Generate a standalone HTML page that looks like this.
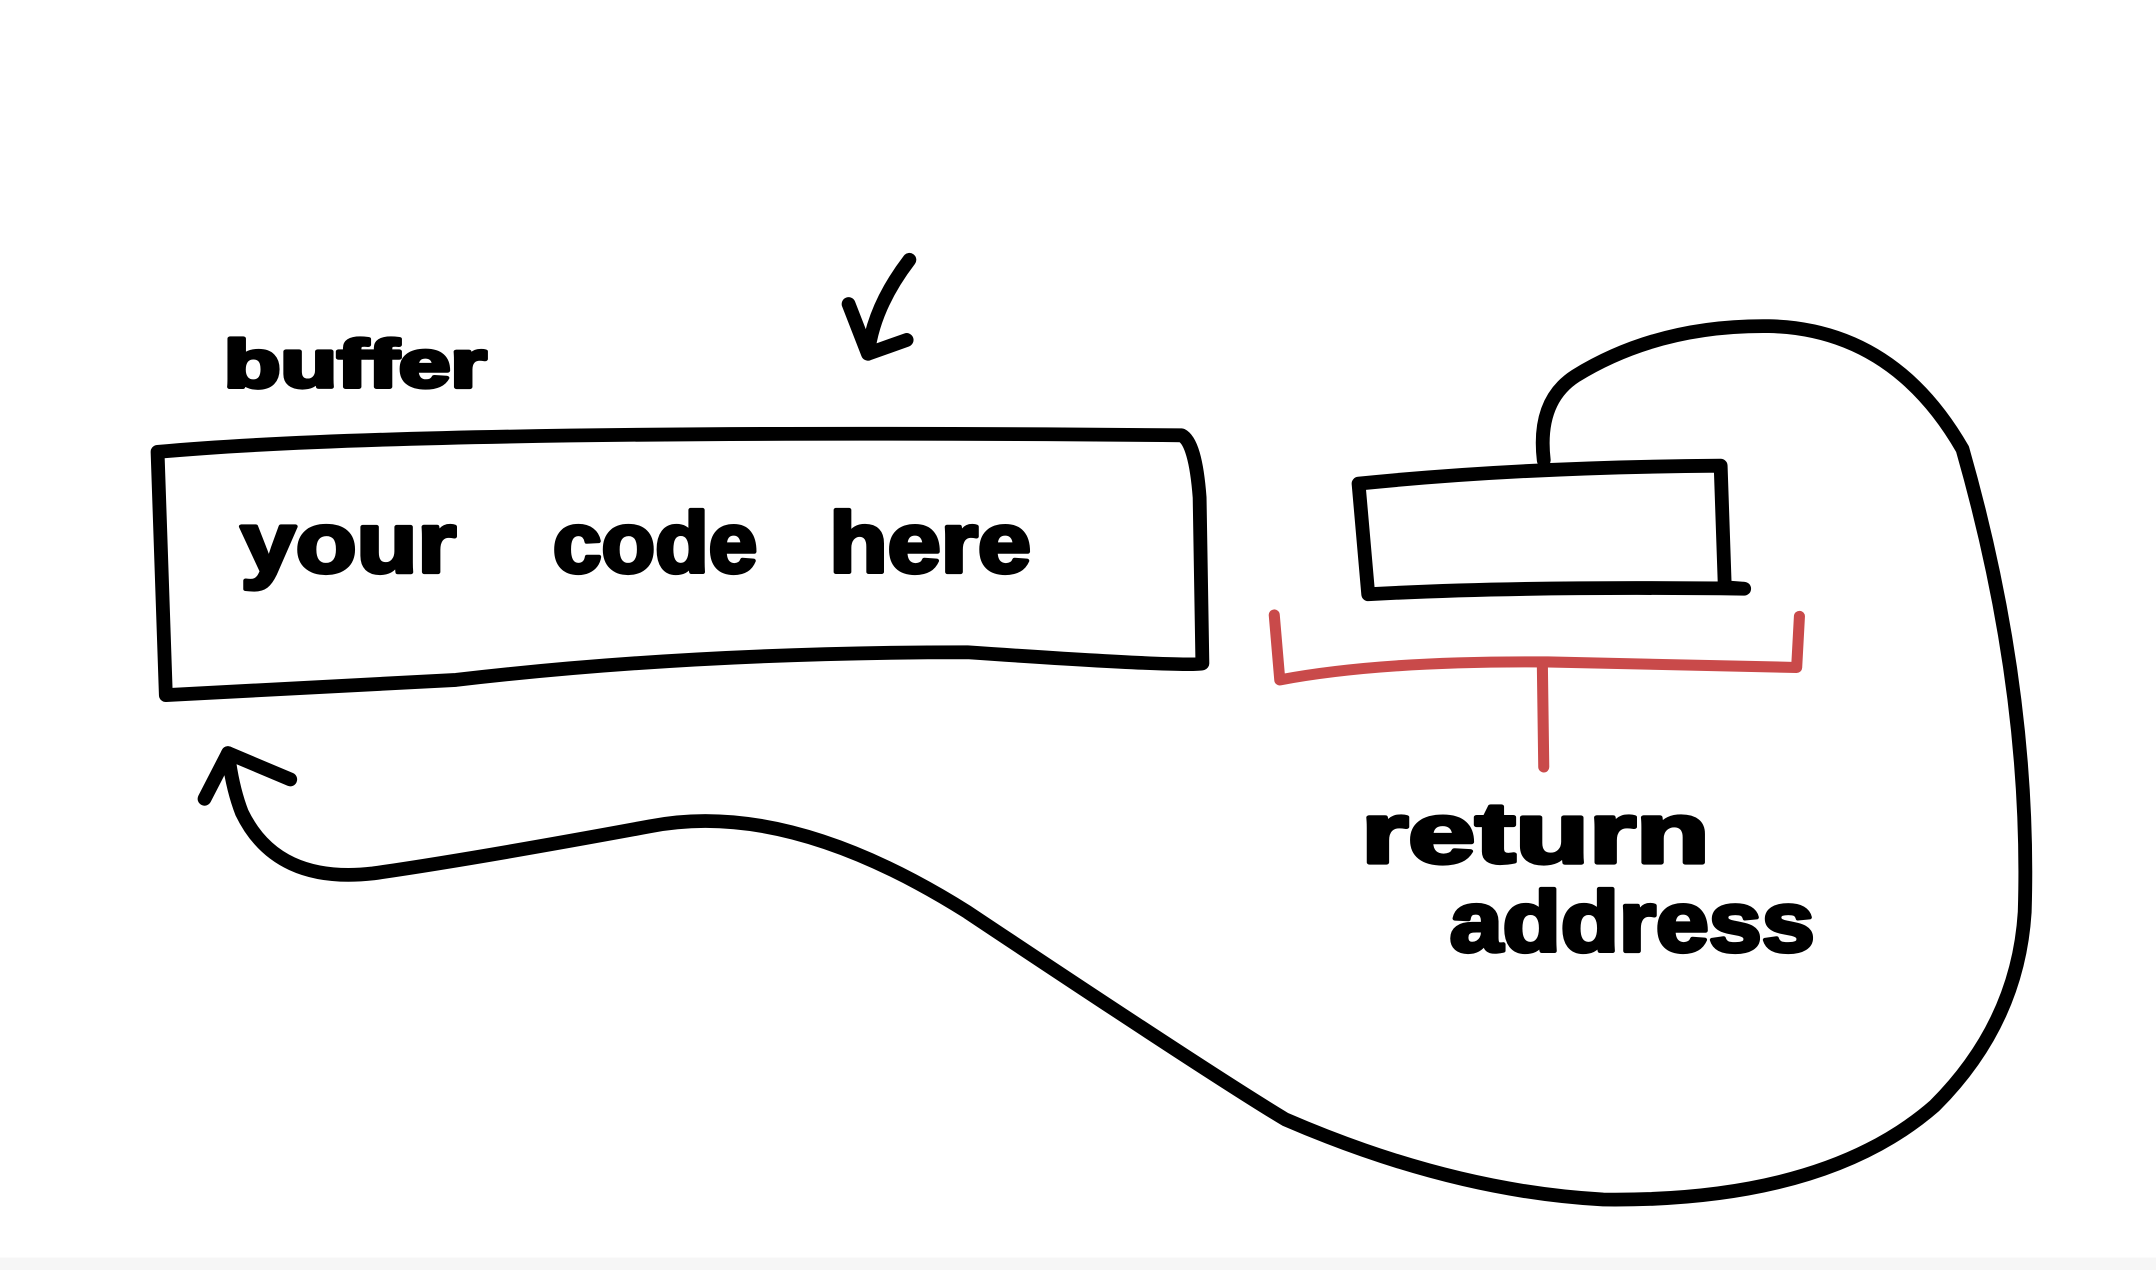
<!DOCTYPE html>
<html><head><meta charset="utf-8"><style>
html,body{margin:0;padding:0;background:#fff;}
svg{display:block;}
text{font-family:"Liberation Sans",sans-serif;font-weight:bold;fill:#000;stroke:#000;stroke-width:3;stroke-linejoin:round;}
</style></head><body>
<svg width="2156" height="1270" viewBox="0 0 1560 919" preserveAspectRatio="none" xmlns="http://www.w3.org/2000/svg">
<rect x="0" y="0" width="1560" height="919" fill="#fff"/>
<rect x="0" y="910" width="1560" height="9" fill="#f6f6f6"/>
<g fill="none" stroke="#000" stroke-width="10" stroke-linecap="round" stroke-linejoin="round">
<path d="M114 327 Q300 310 855 315 Q865 320 868 360 L870 480 Q860 483 700 472 Q500 472 330 492 L120 503 L114 327"/>
<path d="M983 350 Q1100 338 1245 337 L1248 425 L1262 426 Q1100 424 990 430 L983 350"/>
<path d="M1117 333 Q1112 290 1140 272 Q1200 235 1280 236 Q1370 238 1420 325 Q1470 500 1465 660 Q1460 740 1400 800 Q1320 870 1160 868 Q1050 862 930 810 Q880 780 700 660 Q570 578 470 598 Q340 622 270 632 Q200 640 175 588 Q168 570 165 545"/>
<path d="M148 578 L165 545 L210 564"/>
<path d="M658 188 Q632 222 628 256 M614 220 L628 256 L656 246"/>
</g>
<g fill="none" stroke="#c94a4a" stroke-width="8" stroke-linecap="round" stroke-linejoin="round">
<path d="M922 445 L926 492 Q1000 478 1120 479 L1300 483 L1302 446"/>
<path d="M1116 482 L1117 555"/>
</g>
<text x="162" y="280" font-size="48" textLength="190" lengthAdjust="spacingAndGlyphs">buffer</text>
<text x="174" y="414" font-size="62" textLength="156" lengthAdjust="spacingAndGlyphs">your</text>
<text x="400" y="414" font-size="62" textLength="148" lengthAdjust="spacingAndGlyphs">code</text>
<text x="600" y="414" font-size="62" textLength="146" lengthAdjust="spacingAndGlyphs">here</text>
<text x="985" y="624" font-size="62" textLength="252" lengthAdjust="spacingAndGlyphs">return</text>
<text x="1049" y="688" font-size="62" textLength="264" lengthAdjust="spacingAndGlyphs">address</text>
</svg>
</body></html>
